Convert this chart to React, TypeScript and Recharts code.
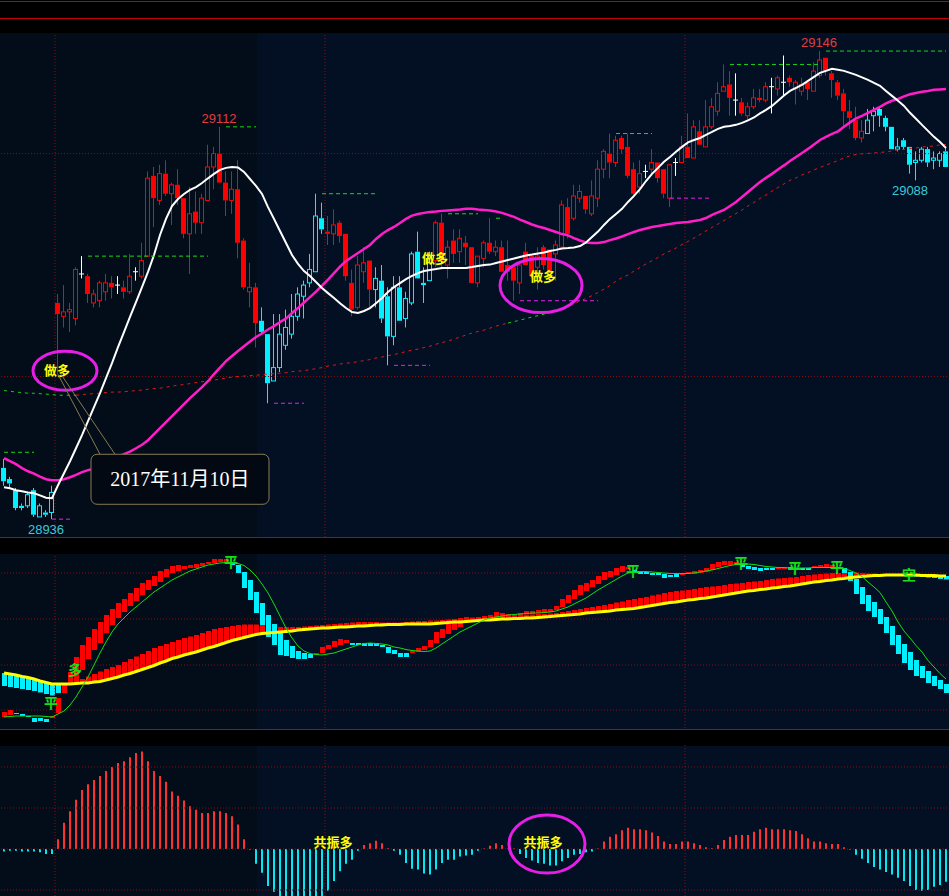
import React from "react";
import {
  ComposedChart,
  Bar,
  Line,
  XAxis,
  YAxis,
  ReferenceLine,
  ReferenceDot,
  Cell,
} from "recharts";

// ---- price bars (one per minute bar, left to right) ----
const opens = [
  28959, 28954, 28949, 28942, 28942, 28949, 28937, 28939, 28939, 29033,
  29027, 29029, 29026, 29046, 29045, 29033, 29034, 29038, 29042, 29041,
  29040, 29038, 29047, 29045, 29054, 29090, 29079, 29091, 29082, 29086,
  29080, 29064, 29074, 29069, 29079, 29094, 29100, 29087, 29079, 29084,
  29061, 29038, 29040, 29025, 29019, 28998, 29004, 29014, 29019, 29027,
  29036, 29042, 29047, 29071, 29065, 29064, 29069, 29064, 29042, 29031,
  29047, 29052, 29039, 29043, 29036, 29018, 29040, 29026, 29033, 29056,
  29042, 29043, 29052, 29069, 29050, 29061, 29056, 29060, 29058, 29042,
  29053, 29060, 29056, 29058, 29050, 29049, 29042, 29056, 29054, 29049,
  29058, 29057, 29055, 29058, 29076, 29071, 29080, 29081, 29073, 29080,
  29093, 29100, 29096, 29107, 29103, 29093, 29085, 29092, 29093, 29096,
  29093, 29080, 29096, 29096, 29103, 29098, 29110, 29103, 29112, 29119,
  29128, 29131, 29124, 29123, 29117, 29121, 29125, 29124, 29130, 29129,
  29132, 29134, 29129, 29128, 29132, 29128, 29135, 29143, 29136, 29132,
  29127, 29119, 29115, 29107, 29109, 29117, 29120, 29116, 29112, 29102,
  29106, 29103, 29096, 29097, 29102, 29097, 29097, 29101,
];
const highs = [
  28963, 28955, 28950, 28943, 28948, 28950, 28943, 28940, 28951, 29037,
  29041, 29033, 29049, 29054, 29046, 29039, 29043, 29046, 29045, 29045,
  29043, 29055, 29049, 29060, 29092, 29094, 29095, 29097, 29087, 29093,
  29080, 29085, 29083, 29082, 29104, 29103, 29112, 29092, 29092, 29097,
  29062, 29051, 29042, 29031, 29019, 29028, 29028, 29030, 29037, 29040,
  29043, 29055, 29082, 29078, 29072, 29075, 29070, 29064, 29048, 29054,
  29058, 29052, 29049, 29050, 29040, 29045, 29045, 29038, 29056, 29065,
  29049, 29056, 29070, 29073, 29061, 29066, 29066, 29063, 29058, 29054,
  29061, 29071, 29061, 29061, 29061, 29049, 29051, 29060, 29055, 29058,
  29059, 29057, 29061, 29079, 29080, 29086, 29086, 29081, 29088, 29097,
  29102, 29109, 29108, 29108, 29109, 29096, 29097, 29095, 29102, 29096,
  29093, 29095, 29098, 29108, 29118, 29115, 29115, 29124, 29125, 29132,
  29140, 29137, 29136, 29125, 29123, 29129, 29129, 29132, 29134, 29135,
  29144, 29135, 29133, 29134, 29133, 29141, 29146, 29143, 29137, 29133,
  29129, 29124, 29121, 29115, 29120, 29121, 29121, 29117, 29112, 29107,
  29107, 29103, 29101, 29103, 29103, 29101, 29101, 29103,
];
const lows = [
  28951, 28950, 28940, 28940, 28941, 28937, 28937, 28937, 28936, 29001,
  29022, 29020, 29023, 29044, 29033, 29031, 29031, 29034, 29035, 29037,
  29035, 29037, 29043, 29044, 29054, 29067, 29077, 29081, 29068, 29077,
  29062, 29046, 29064, 29064, 29079, 29084, 29087, 29072, 29073, 29053,
  29039, 29031, 29013, 29019, 28988, 28998, 29002, 29012, 29017, 29025,
  29026, 29040, 29047, 29064, 29059, 29059, 29060, 29043, 29027, 29030,
  29042, 29031, 29031, 29024, 29005, 29014, 29025, 29022, 29032, 29044,
  29033, 29043, 29049, 29048, 29044, 29051, 29051, 29050, 29042, 29040,
  29049, 29055, 29054, 29047, 29043, 29034, 29037, 29050, 29044, 29039,
  29048, 29047, 29043, 29058, 29062, 29070, 29078, 29073, 29072, 29076,
  29089, 29089, 29094, 29100, 29089, 29081, 29082, 29089, 29091, 29087,
  29080, 29076, 29090, 29096, 29098, 29098, 29104, 29103, 29111, 29117,
  29128, 29117, 29117, 29117, 29115, 29120, 29123, 29123, 29118, 29126,
  29126, 29130, 29122, 29126, 29124, 29128, 29134, 29135, 29125, 29124,
  29112, 29111, 29106, 29105, 29109, 29110, 29112, 29110, 29102, 29101,
  29102, 29091, 29088, 29096, 29094, 29093, 29094, 29094,
];
const closes = [
  28953, 28952, 28941, 28941, 28947, 28938, 28942, 28938, 28948, 29028,
  29029, 29030, 29048, 29046, 29037, 29037, 29042, 29042, 29040, 29041,
  29038, 29045, 29047, 29052, 29089, 29080, 29091, 29082, 29086, 29080,
  29064, 29073, 29069, 29080, 29094, 29100, 29087, 29079, 29084, 29060,
  29040, 29040, 29024, 29020, 28997, 29004, 29019, 29022, 29027, 29037,
  29041, 29048, 29072, 29066, 29064, 29068, 29063, 29045, 29030, 29050,
  29051, 29039, 29044, 29026, 29018, 29040, 29025, 29035, 29055, 29044,
  29041, 29054, 29069, 29052, 29058, 29055, 29062, 29058, 29042, 29054,
  29060, 29056, 29058, 29047, 29047, 29043, 29050, 29050, 29045, 29054,
  29050, 29047, 29059, 29077, 29064, 29081, 29083, 29075, 29081, 29093,
  29101, 29096, 29106, 29102, 29090, 29082, 29091, 29092, 29096, 29089,
  29082, 29095, 29096, 29103, 29098, 29112, 29104, 29112, 29121, 29127,
  29130, 29125, 29124, 29118, 29121, 29125, 29124, 29130, 29130, 29134,
  29132, 29132, 29132, 29131, 29129, 29137, 29142, 29137, 29133, 29126,
  29119, 29116, 29107, 29110, 29115, 29119, 29117, 29112, 29102, 29103,
  29103, 29095, 29097, 29102, 29096, 29098, 29100, 29094,
];
// bars painted cyan (weak trend), index ranges inclusive
const cyanSpans = [[0, 8], [43, 53], [62, 71], [144, 157]];
// first bar of each trading session
const sessionStarts = [9, 54, 114];

// ---- moving averages on price ----
const maFast = [
  28950.3, 28949.9, 28949, 28948.5, 28948, 28947.6, 28946.7, 28945.6, 28945.4, 28951.2,
  28956.6, 28962, 28967.8, 28973.7, 28980, 28986.3, 28992.5, 28999.3, 29006, 29013.2,
  29019.9, 29026.7, 29033.4, 29040.1, 29046.9, 29054.5, 29063.5, 29070.7, 29076.5, 29079.6,
  29081.9, 29083.7, 29085, 29086.8, 29088.9, 29090.9, 29092.7, 29093.6, 29094, 29093.8,
  29091.8, 29088.6, 29085.5, 29081.9, 29076, 29070.7, 29065.3, 29059.9, 29054.5, 29050.5,
  29047.3, 29045.1, 29042.4, 29039.7, 29037.4, 29035.2, 29032.9, 29030.7, 29028.9, 29028.5,
  29029.4, 29030.7, 29032.9, 29035.2, 29037.9, 29040.1, 29041.9, 29043.7, 29045.1, 29046.4,
  29047.3, 29047.8, 29048.2, 29048.7, 29048.7, 29048.7, 29048.7, 29048.7, 29049.1, 29049.6,
  29050, 29050.2, 29050.9, 29051.6, 29052.3, 29052.9, 29053.6, 29054.3, 29054.7, 29055.2,
  29055.6, 29056.3, 29056.8, 29057.4, 29057.6, 29057.9, 29058.5, 29060.1, 29062.6, 29065,
  29068, 29070.7, 29072.9, 29075.2, 29078.3, 29081, 29084.1, 29087.7, 29090.9, 29093.6,
  29096.3, 29098.5, 29100.8, 29103, 29105, 29106.1, 29107, 29108.4, 29109.7, 29111.1,
  29112, 29112.4, 29112.9, 29113.8, 29114.9, 29116.2, 29118, 29119.6, 29121.4, 29123.7,
  29126.1, 29128.1, 29129.5, 29130.8, 29132.6, 29134.4, 29136.2, 29137.1, 29138, 29137.6,
  29137.1, 29136.2, 29135.3, 29134.2, 29133.1, 29131.7, 29130.4, 29128.1, 29125.9, 29123.7,
  29121.4, 29118.3, 29115.6, 29112.9, 29110.2, 29107.5, 29105.2, 29102.5,
];
const maMid = [
  28963.4, 28962, 28960.7, 28958.9, 28957.5, 28956.4, 28955.1, 28953.9, 28953.5, 28953.5,
  28953.9, 28954.8, 28955.9, 28957.1, 28958, 28958.6, 28959.3, 28961.1, 28962.5, 28964,
  28965.2, 28966.3, 28967.8, 28969.4, 28971.4, 28974.1, 28976.8, 28979.5, 28982.2, 28984.9,
  28987.6, 28990.3, 28992.8, 28995.2, 28997.9, 29001.1, 29004, 29006.9, 29009.2, 29011.4,
  29013.6, 29015.7, 29017.7, 29019.3, 29021.1, 29022.6, 29024.4, 29026, 29028.5, 29030.7,
  29033.2, 29035.6, 29038.1, 29040.8, 29043.5, 29046.4, 29049.3, 29051.8, 29053.6, 29055.4,
  29057.2, 29059, 29061.7, 29063.9, 29065.7, 29067.1, 29068.9, 29070.7, 29072.2, 29072.9,
  29073.4, 29073.8, 29074, 29074.3, 29074.5, 29074.7, 29074.9, 29075.2, 29075.2, 29074.9,
  29074.7, 29074.5, 29074, 29073.4, 29072.5, 29071.6, 29070.4, 29069.3, 29068.2, 29067.3,
  29066.6, 29065.7, 29064.8, 29063.9, 29063.3, 29062.1, 29061, 29060.1, 29059.9, 29059.9,
  29060.3, 29061.2, 29061.9, 29062.8, 29063.9, 29064.8, 29065.7, 29066.4, 29067.1, 29067.5,
  29068, 29068.4, 29068.9, 29069.1, 29069.3, 29069.8, 29070.2, 29071.1, 29072.5, 29073.6,
  29074.7, 29076.5, 29078.3, 29080.5, 29082.8, 29085, 29087.3, 29089.1, 29090.9, 29092.9,
  29094.7, 29096.7, 29098.5, 29100.3, 29102.1, 29104.1, 29106.1, 29107.5, 29108.8, 29110,
  29112, 29114, 29115.8, 29116.9, 29118.3, 29119.6, 29121, 29122.5, 29123.7, 29124.5,
  29125.7, 29126.6, 29127.2, 29127.7, 29128.1, 29128.6, 29128.8, 29129,
];
const maSlow = [
  28993.7, 28993.4, 28993, 28992.8, 28992.5, 28992.5, 28992.3, 28992.1, 28991.9, 28991.6,
  28991.6, 28991.6, 28991.6, 28991.9, 28992.1, 28992.3, 28992.5, 28992.8, 28993, 28993,
  28993.2, 28993.4, 28993.7, 28993.9, 28994.3, 28994.6, 28994.8, 28995.2, 28995.7, 28996.1,
  28996.4, 28996.8, 28997.3, 28997.7, 28997.9, 28998.4, 28998.8, 28999.3, 28999.7, 29000,
  29000.2, 29000.4, 29000.6, 29000.8, 29001.1, 29001.3, 29001.5, 29001.7, 29002.2, 29002.4,
  29002.6, 29003.1, 29003.5, 29004, 29004.7, 29005.1, 29005.6, 29006, 29006.2, 29006.7,
  29007.1, 29007.6, 29008.3, 29008.7, 29009.4, 29009.8, 29010.5, 29011.2, 29011.8, 29012.3,
  29013, 29013.6, 29014.5, 29015.2, 29015.9, 29016.8, 29017.7, 29018.6, 29019.5, 29020.2,
  29020.8, 29021.7, 29022.6, 29023.3, 29024, 29024.6, 29025.3, 29026, 29026.7, 29027.3,
  29028, 29028.9, 29029.6, 29030.5, 29031.4, 29032.5, 29033.9, 29035, 29036.3, 29037.7,
  29039.2, 29040.8, 29042.8, 29044.4, 29045.5, 29047.3, 29048.9, 29050.5, 29052, 29053.4,
  29055, 29056.3, 29057.6, 29059.2, 29060.6, 29062.1, 29063.7, 29065.3, 29066.9, 29068.4,
  29070, 29071.6, 29073.1, 29074.7, 29076.5, 29078.1, 29079.9, 29081.4, 29083.2, 29084.8,
  29086.4, 29088, 29089.1, 29090.4, 29091.5, 29092.7, 29093.8, 29094.9, 29095.8, 29096.9,
  29098.1, 29099, 29099.6, 29099.9, 29100.1, 29100.3, 29100.5, 29100.8, 29101.2, 29101.7,
  29101.9, 29102.3, 29102.5, 29103, 29103.2, 29103.4, 29103.9, 29104.1,
];
const slowGreenSpans = [[0, 12], [84, 91]];

// ---- horizontal levels ----
const resistLevels = [
  { from: 0, to: 5, price: 28966 },
  { from: 14, to: 34, price: 29054 },
  { from: 37, to: 42, price: 29112 },
  { from: 53, to: 62, price: 29082 },
  { from: 74, to: 79, price: 29073 },
  { from: 82, to: 83, price: 29071 },
  { from: 102, to: 108, price: 29109 },
  { from: 121, to: 136, price: 29140 },
  { from: 137, to: 157, price: 29146 },
];
const supportLevels = [
  { from: 8, to: 11, price: 28936 },
  { from: 45, to: 50, price: 28988 },
  { from: 65, to: 71, price: 29005 },
  { from: 86, to: 99, price: 29034 },
  { from: 111, to: 118, price: 29080 },
];
const extremes = [
  { i: 36, price: 29112, top: true },
  { i: 136, price: 29146, top: true },
  { i: 8, price: 28936, top: false },
  { i: 152, price: 29088, top: false },
];
const buySignals = [
  { i: 9, price: 29003 },
  { i: 72, price: 29053 },
  { i: 90, price: 29045 },
];

// ---- middle oscillator panel ----
const signalLine = [
  37, 36, 35, 33.5, 32.5, 31, 29, 27.5, 26, 26,
  26, 26, 26.5, 27, 27, 28, 28.5, 30, 31.5, 33,
  35, 36.5, 38.5, 40.5, 42.5, 44.5, 47, 49, 51.5, 53,
  55, 56.5, 58, 60, 62, 63.5, 65.5, 67.5, 69.5, 71,
  72.5, 74, 75.5, 76.5, 77, 77.5, 78, 78.5, 79, 80,
  80.5, 81, 81.5, 82, 82, 82.5, 83, 83, 83.5, 84,
  84, 84.5, 85, 85, 85.5, 85.5, 85.5, 86, 86, 86,
  86, 86, 86.5, 87, 87.5, 88, 88, 88.5, 89, 89.5,
  90, 90, 90.5, 91, 91, 91.5, 91.5, 92, 92, 92.5,
  93, 93.5, 94, 94.5, 95, 95.5, 96, 97, 97.5, 98,
  98.5, 99, 100, 100.5, 101, 101.5, 102.5, 103.5, 104.5, 105.5,
  106.5, 107.5, 108, 109, 110, 110.5, 111.5, 112, 113, 114,
  115, 116, 117, 118, 119, 119.5, 120.5, 121, 122, 122.5,
  123.5, 124, 125, 126, 127, 128, 128.5, 129.5, 130, 131,
  131.5, 132.5, 133, 133.5, 134, 134.5, 134.5, 135, 135, 135,
  135, 135, 135, 134.5, 134.5, 134.5, 134, 134,
];
const trendLine = [
  24, 23, 22, 21, 20, 19, 17.5, 16, 14.5, 17,
  26, 28, 30, 31, 33.5, 36, 38.5, 41, 43, 45,
  48, 51, 53.5, 56, 59, 62, 64, 66, 68, 70,
  72, 73.5, 75, 77, 79, 81, 82, 83, 84, 85,
  85.5, 85.5, 85.5, 85, 84, 83.5, 83, 83, 83, 83,
  83.5, 84, 84.5, 85, 85.5, 86, 86.5, 87, 87.5, 88,
  88, 88, 88, 87.5, 87.5, 87.5, 87.5, 88, 88.5, 89,
  89, 89.5, 89.5, 90, 90.5, 91, 91.5, 92, 92.5, 92.5,
  93, 93.5, 93.5, 94, 94.5, 94.5, 95, 95.5, 95.5, 96,
  96, 96.5, 97, 98, 99, 100, 101, 102, 103, 104,
  105, 106, 107.5, 108.5, 110, 111, 112, 113, 114.5, 115.5,
  117, 118, 119, 119.5, 120, 121, 122, 123, 123.5, 124,
  125, 126, 126.5, 127, 128, 128.5, 129, 130, 131, 131.5,
  132, 132.5, 133, 134, 135, 135.5, 136, 136.5, 137, 137,
  137.5, 137.5, 137.5, 137, 136.5, 136.5, 136, 136, 135.5, 135,
  134.5, 134, 133.5, 133, 132.5, 132, 131, 130.5,
];
const fastFrom = [
  -7, -5, -3, -4, -6, -8, -8, -9, -8, -3,
  17, 27, 30, 40, 51, 60, 67, 77, 85, 92,
  98, 104, 109, 115, 120, 124, 128, 133, 137, 139,
  141, 142, 142, 144, 146, 147, 148, 148, 148, 145,
  138, 130, 118, 107, 95, 86, 78, 70, 64, 59,
  57, 56, 55, 57, 61, 63, 65, 67, 67, 67,
  67, 67, 67, 65, 63, 60, 57, 57, 57, 58,
  60, 63, 67, 72, 76, 80, 83, 87, 88, 89,
  91, 92, 93, 94, 93, 93, 94, 96, 96, 97,
  97, 98, 100, 103, 107, 111, 115, 119, 123, 126,
  130, 133, 135, 138, 141, 140, 138, 138, 137, 137,
  136, 135, 136, 135, 136, 136, 137, 138, 140, 143,
  145, 145, 146, 146, 144, 143, 142, 142, 142, 141,
  141, 143, 142, 142, 142, 142, 143, 143, 142, 142,
  142, 138, 131, 123, 115, 108, 101, 93, 84, 75,
  66, 58, 50, 44, 39, 34, 30, 26,
];
const fastTo = [
  -2, 0, -4, -6, -7, -12, -11, -12, -6, 12,
  26, 38, 53, 65, 73, 81, 88, 95, 101, 107,
  111, 117, 122, 127, 130, 134, 139, 141, 144, 145,
  144, 145, 146, 147, 148, 151, 151, 151, 145, 137,
  122, 110, 97, 85, 73, 65, 55, 54, 52, 51,
  51, 52, 57, 63, 65, 69, 71, 70, 65, 65,
  64, 64, 64, 63, 57, 56, 53, 53, 59, 62,
  64, 70, 78, 81, 86, 90, 92, 93, 92, 93,
  94, 95, 98, 97, 96, 95, 97, 99, 99, 100,
  101, 101, 104, 111, 115, 120, 125, 127, 130, 134,
  138, 139, 142, 144, 143, 137, 136, 136, 135, 135,
  132, 133, 133, 137, 138, 139, 140, 142, 146, 148,
  149, 149, 148, 143, 141, 140, 139, 140, 140, 143,
  143, 140, 140, 140, 140, 144, 145, 146, 145, 143,
  137, 129, 116, 106, 99, 93, 86, 77, 65, 56,
  47, 40, 34, 32, 27, 24, 21, 17,
];
const smoothLine = [
  -7, -6.5, -6, -6, -6, -6, -6, -6.5, -7, -4,
  -1, 5, 13, 23, 33, 45, 57, 68, 78, 86,
  92, 98, 103, 108, 113, 118, 122, 126, 130, 133,
  136, 139, 141, 143, 145, 146, 147, 147.5, 147.5, 146.5,
  144.5, 140, 134, 126, 117, 106, 94, 82, 72, 64,
  59, 56.5, 55.5, 55, 56, 57, 59, 61, 63, 65,
  66.5, 67, 66.5, 66, 65, 63, 62, 60.5, 59.5, 59,
  58.5, 59, 62, 66, 70, 74, 78, 81, 84, 87,
  90, 92, 93, 94, 95, 95.5, 96, 96.5, 97, 97,
  97.5, 98, 99, 101, 103, 106, 109, 112, 116, 120,
  123.5, 127, 130.5, 134, 137, 138, 138.5, 138.5, 138, 137.5,
  137, 136.5, 136.5, 136.5, 136.5, 137, 138, 139, 140, 141.5,
  143, 144.5, 145.5, 146, 146, 145.5, 144.5, 143.5, 143, 142.5,
  142.5, 142, 142, 142, 142, 142.5, 142.5, 142.5, 142.5, 142.5,
  141.5, 139.5, 137, 133.5, 128, 123, 117.5, 108, 99, 88,
  79, 72, 64.5, 58, 49.5, 43, 36.5, 31,
];
const oscSignals = [
  { i: 8, v: 7, t: "平" },
  { i: 12, v: 40, t: "多" },
  { i: 38, v: 148, t: "平" },
  { i: 105, v: 139, t: "平" },
  { i: 123, v: 147, t: "平" },
  { i: 132, v: 142, t: "平" },
  { i: 139, v: 143, t: "平" },
  { i: 151, v: 135, t: "空" },
];

// ---- bottom histogram ----
const histogram = [
  -3, -2, -2, -3, -3, -3, -4, -6, -6, 12,
  32, 46, 60, 72, 79, 84, 89, 95, 100, 105,
  107, 112, 117, 119, 107, 95, 89, 82, 70, 65,
  59, 52, 48, 44, 44, 46, 46, 44, 40, 30,
  12, -0.5, -18, -29, -45, -52, -58, -61, -63, -64,
  -64, -63, -61, -58, -51, -39, -27, -18, -13, -2,
  5, 7, 10, 7, 1, -2, -7, -17, -24, -25,
  -30, -31, -25, -17, -13, -13, -9, -8, -7, -2,
  0.5, 4, 7, 5, 0.5, 0.5, -6, -11, -14, -17,
  -18, -20, -20, -15, -11, -7, -6, -4, -3, 0.5,
  9, 15, 18, 23, 26, 24, 24, 23, 20, 16,
  9, 6, 6, 9, 9, 7, 5, 2, 1, 5,
  11, 15, 17, 17, 17, 21, 24, 26, 24, 24,
  24, 23, 22, 18, 13, 9, 9, 7, 6, 6,
  2, -0.5, -7, -12, -17, -22, -25, -28, -31, -35,
  -39, -45, -50, -51, -50, -46, -44, -40,
];
const resonance = [
  { i: 55, v: 8 },
  { i: 90, v: 8 },
];

const RED = "#ff0000";
const CYAN = "#00f0ff";
const GRID = "#8a0c0c";
const CJK = '"Noto Sans CJK SC", "Noto Sans", sans-serif';
const MARGIN = { top: 0, right: 1, bottom: 0, left: 1 };

const inSpans = (i: number, spans: number[][]) =>
  spans.some(([a, b]) => i >= a && i <= b);
const insideSpans = (i: number, spans: number[][]) =>
  spans.some(([a, b]) => i > a && i < b);

const mainData = opens.map((o, i) => ({
  i,
  o,
  h: highs[i],
  l: lows[i],
  c: closes[i],
  tone: o === closes[i] ? "w" : inSpans(i, cyanSpans) ? "c" : "r",
  ma1: maFast[i],
  ma2: maMid[i],
  ma3: insideSpans(i, slowGreenSpans) ? null : maSlow[i],
  ma3g: inSpans(i, slowGreenSpans) ? maSlow[i] : null,
}));

const midData = signalLine.map((y, i) => ({
  i,
  y,
  s: trendLine[i],
  ff: fastFrom[i],
  ft: fastTo[i],
  g: smoothLine[i],
}));

const histData = histogram.map((h, i) => ({ i, h }));

function Candle(props: any) {
  const { x, y, width, height, payload } = props;
  const { o, h, l, c, tone } = payload;
  const color = tone === "w" ? "#ffffff" : tone === "c" ? CYAN : RED;
  const k = h === l ? 0 : height / (h - l);
  const py = (v: number) => y + (h - v) * k;
  const cx = Math.floor(x + width / 2) + 0.5;
  const top = py(Math.max(o, c));
  const bot = py(Math.min(o, c));
  let body;
  if (o === c) {
    body = <line x1={cx - 2.5} x2={cx + 2.5} y1={top} y2={top} stroke={color} />;
  } else if (c > o) {
    body = (
      <rect x={cx - 2} y={top} width={4} height={Math.max(bot - top, 1)} fill="none" stroke={color} />
    );
  } else {
    body = <rect x={cx - 2.5} y={top} width={5} height={Math.max(bot - top, 1)} fill={color} />;
  }
  return (
    <g>
      <line x1={cx} x2={cx} y1={y} y2={top} stroke={color} />
      <line x1={cx} x2={cx} y1={bot} y2={y + height} stroke={color} />
      {body}
    </g>
  );
}

function PanelBg({ top, height }: { top: number; height: number }) {
  return (
    <>
      <div style={{ position: "absolute", left: 0, top, width: 257, height, background: "#030c19" }} />
      <div style={{ position: "absolute", left: 257, top, width: 692, height, background: "#031024" }} />
    </>
  );
}

const layer = (top: number): React.CSSProperties => ({ position: "absolute", left: 0, top });
const MID_MARGIN = { top: 10, right: 1, bottom: 0, left: 1 };

export default function App() {
  return (
    <div style={{ position: "relative", width: 949, height: 896, background: "#000", overflow: "hidden" }}>
      <style>{"body{margin:0;background:#000}"}</style>
      <div style={{ position: "absolute", left: 0, top: 1, width: 949, height: 1, background: "#c00000" }} />
      <div style={{ position: "absolute", left: 0, top: 18, width: 949, height: 1, background: "#c00000" }} />
      <PanelBg top={33} height={504} />
      <PanelBg top={554} height={175} />
      <PanelBg top={746} height={150} />
      <div style={{ position: "absolute", left: 0, top: 537, width: 949, height: 1, background: "#c00000" }} />
      <div style={{ position: "absolute", left: 0, top: 729, width: 949, height: 1, background: "#c00000" }} />

      {/* main candle panel */}
      <div style={layer(35)}>
        <ComposedChart width={950} height={502} data={mainData} margin={MARGIN}>
          <XAxis dataKey="i" hide scale="band" />
          <YAxis hide domain={[28928, 29153.2]} allowDataOverflow />
          <ReferenceLine y={29000} stroke={GRID} strokeDasharray="1 2" />
          <ReferenceLine y={29100} stroke={GRID} strokeDasharray="1 2" />
          {sessionStarts.map((s) => (
            <ReferenceLine key={s} x={s} position="start" stroke={GRID} strokeDasharray="1 2" />
          ))}
          <Bar dataKey={(d: any) => [d.l, d.h]} barSize={6} shape={(p: any) => <Candle {...p} />} isAnimationActive={false} />
          <Line dataKey="ma3" stroke="#e01818" strokeWidth={1} strokeDasharray="3 4" dot={false} activeDot={false} isAnimationActive={false} />
          <Line dataKey="ma3g" stroke="#18d018" strokeWidth={1} strokeDasharray="3 4" dot={false} activeDot={false} isAnimationActive={false} />
          <Line dataKey="ma2" stroke="#ff1ec8" strokeWidth={2.5} dot={false} activeDot={false} isAnimationActive={false} />
          <Line dataKey="ma1" stroke="#ffffff" strokeWidth={2} dot={false} activeDot={false} isAnimationActive={false} />
          {resistLevels.map((r) => (
            <ReferenceLine
              key={"r" + r.from}
              segment={[{ x: r.from, y: r.price }, { x: r.to, y: r.price }]}
              stroke="#18d818"
              strokeDasharray="4 3"
            />
          ))}
          {supportLevels.map((r) => (
            <ReferenceLine
              key={"s" + r.from}
              segment={[{ x: r.from, y: r.price }, { x: r.to, y: r.price }]}
              stroke="#e81ee8"
              strokeDasharray="4 3"
            />
          ))}
          {extremes.map((e) => (
            <ReferenceDot
              key={"e" + e.i}
              x={e.i}
              y={e.price}
              r={0}
              ifOverflow="visible"
              shape={(p: any) => (
                <text
                  x={e.top ? p.cx - 1 : p.cx - 6}
                  y={e.top ? p.cy - 4 : p.cy + 15}
                  textAnchor="middle"
                  fontFamily='"Liberation Sans", Arial, sans-serif'
                  fontSize={13}
                  fill={e.top ? "#e03c3c" : "#3cc8d8"}
                >
                  {e.price}
                </text>
              )}
            />
          ))}
          {buySignals.map((b) => (
            <ReferenceDot
              key={"b" + b.i}
              x={b.i}
              y={b.price}
              r={0}
              ifOverflow="visible"
              shape={(p: any) => (
                <text x={p.cx - 1} y={p.cy + 5} textAnchor="middle" fontFamily={CJK} fontWeight={700} fontSize={13} fill="#ffff00">
                  做多
                </text>
              )}
            />
          ))}
          <ReferenceDot
            x={10}
            y={29002.6}
            r={0}
            ifOverflow="visible"
            shape={(p: any) => <ellipse cx={p.cx + 1} cy={p.cy} rx={32} ry={19.5} fill="none" stroke="#e61ee6" strokeWidth={3} />}
          />
          <ReferenceDot
            x={89}
            y={29040.8}
            r={0}
            ifOverflow="visible"
            shape={(p: any) => <ellipse cx={p.cx + 3} cy={p.cy} rx={41} ry={27} fill="none" stroke="#e61ee6" strokeWidth={3} />}
          />
          <ReferenceDot
            x={9}
            y={lows[9]}
            r={0}
            ifOverflow="visible"
            shape={(p: any) => (
              <g>
                <line x1={p.cx} y1={p.cy} x2={p.cx + 42} y2={p.cy + 80} stroke="#8a7a50" />
                <line x1={p.cx + 3} y1={p.cy} x2={p.cx + 57} y2={p.cy + 80} stroke="#8a7a50" />
                <rect x={p.cx + 33} y={p.cy + 80} width={178} height={50} rx={6} fill="#020912" stroke="#8a7a50" />
                <text
                  x={p.cx + 122}
                  y={p.cy + 112}
                  textAnchor="middle"
                  fontFamily='"Liberation Serif", "Noto Sans CJK SC", serif'
                  fontSize={20}
                  fill="#ffffff"
                >
                  2017年11月10日
                </text>
              </g>
            )}
          />
        </ComposedChart>
      </div>

      {/* middle panel: trend bars */}
      <div style={layer(545)}>
        <ComposedChart width={950} height={183} data={midData} margin={MID_MARGIN}>
          <XAxis dataKey="i" hide scale="band" />
          <YAxis hide domain={[-18, 155]} allowDataOverflow />
          {[0, 45, 91, 137].map((v) => (
            <ReferenceLine key={v} y={v} stroke={GRID} strokeDasharray="1 2" />
          ))}
          {sessionStarts.map((s) => (
            <ReferenceLine key={s} x={s} position="start" stroke={GRID} strokeDasharray="1 2" />
          ))}
          <Bar dataKey={(d: any) => [Math.min(d.y, d.s), Math.max(d.y, d.s)]} barSize={5} isAnimationActive={false}>
            {midData.map((d) => (
              <Cell key={d.i} fill={d.s > d.y ? RED : CYAN} />
            ))}
          </Bar>
        </ComposedChart>
      </div>
      <div style={layer(545)}>
        <ComposedChart width={950} height={183} data={midData} margin={MID_MARGIN}>
          <XAxis dataKey="i" hide scale="band" />
          <YAxis hide domain={[-18, 155]} allowDataOverflow />
          <Bar dataKey={(d: any) => [Math.min(d.ff, d.ft), Math.max(d.ff, d.ft)]} barSize={5} isAnimationActive={false}>
            {midData.map((d) => (
              <Cell key={d.i} fill={d.ft > d.ff ? RED : CYAN} />
            ))}
          </Bar>
          <Line dataKey="y" stroke="#ffff00" strokeWidth={3} dot={false} activeDot={false} isAnimationActive={false} />
          <Line dataKey="g" stroke="#10e010" strokeWidth={1} dot={false} activeDot={false} isAnimationActive={false} />
          {oscSignals.map((s) => (
            <ReferenceDot
              key={"o" + s.i}
              x={s.i}
              y={s.v}
              r={0}
              ifOverflow="visible"
              shape={(p: any) => (
                <text x={p.cx - 1} y={p.cy + 5} textAnchor="middle" fontFamily={CJK} fontWeight={700} fontSize={14} fill="#18e018">
                  {s.t}
                </text>
              )}
            />
          ))}
        </ComposedChart>
      </div>

      {/* bottom histogram */}
      <div style={layer(745)}>
        <ComposedChart width={950} height={151} data={histData} margin={MARGIN}>
          <XAxis dataKey="i" hide scale="band" />
          <YAxis hide domain={[-57.3, 126.8]} allowDataOverflow />
          {[-50, 0, 50, 100].map((v) => (
            <ReferenceLine key={v} y={v} stroke={GRID} strokeDasharray="1 2" />
          ))}
          {sessionStarts.map((s) => (
            <ReferenceLine key={s} x={s} position="start" stroke={GRID} strokeDasharray="1 2" />
          ))}
          <Bar dataKey="h" barSize={2} isAnimationActive={false}>
            {histData.map((d) => (
              <Cell key={d.i} fill={d.h >= 0 ? "#ff3030" : "#00e8f0"} />
            ))}
          </Bar>
          {resonance.map((r) => (
            <ReferenceDot
              key={"z" + r.i}
              x={r.i}
              y={r.v}
              r={0}
              ifOverflow="visible"
              shape={(p: any) => (
                <text x={p.cx - 1} y={p.cy + 5} textAnchor="middle" fontFamily={CJK} fontWeight={700} fontSize={13} fill="#ffff00">
                  共振多
                </text>
              )}
            />
          ))}
          <ReferenceDot
            x={90}
            y={6}
            r={0}
            ifOverflow="visible"
            shape={(p: any) => <ellipse cx={p.cx + 3} cy={p.cy} rx={38} ry={29} fill="none" stroke="#e61ee6" strokeWidth={3} />}
          />
        </ComposedChart>
      </div>
    </div>
  );
}
